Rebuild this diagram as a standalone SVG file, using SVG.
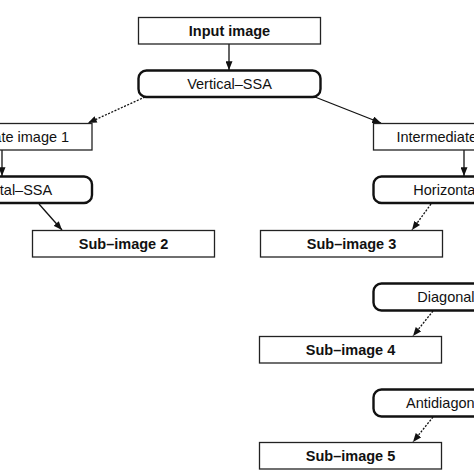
<svg xmlns="http://www.w3.org/2000/svg" width="474" height="474" viewBox="0 0 474 474">
<defs>
<marker id="ah" viewBox="0 0 10 8" refX="10" refY="4" markerWidth="9" markerHeight="7" markerUnits="userSpaceOnUse" orient="auto">
<path d="M0,0 L10,4 L0,8 Z" fill="#111"/>
</marker>
</defs>
<style>
.box{fill:#fff;stroke:#222;stroke-width:1.3}
.rbox{fill:#fff;stroke:#111;stroke-width:2.4}
.t{font-family:"Liberation Sans",Arial,sans-serif;font-size:14.5px;fill:#111;text-anchor:middle}
.b{font-weight:bold}
.c{stroke:#111;stroke-width:1.3;fill:none}
.d{stroke-dasharray:2,1.5}
</style>
<rect width="474" height="474" fill="#fff"/>
<g id="connectors">
<line class="c" x1="229" y1="44" x2="229" y2="70" marker-end="url(#ah)"/>
<line class="c d" x1="145" y1="97" x2="88" y2="123" marker-end="url(#ah)"/>
<line class="c" x1="315" y1="97" x2="381" y2="123" marker-end="url(#ah)"/>
<line class="c" x1="2" y1="150" x2="2" y2="176" marker-end="url(#ah)"/>
<line class="c" x1="39" y1="204" x2="62" y2="230" marker-end="url(#ah)"/>
<line class="c" x1="464" y1="150" x2="464" y2="176" marker-end="url(#ah)"/>
<line class="c d" x1="431" y1="204" x2="412" y2="230" marker-end="url(#ah)"/>
<line class="c d" x1="433" y1="311" x2="413" y2="336" marker-end="url(#ah)"/>
<line class="c d" x1="433" y1="417" x2="413" y2="442" marker-end="url(#ah)"/>
</g>
<g id="input"><rect class="box" x="138.5" y="17.5" width="182" height="26.5"/><text class="t b" x="229.5" y="36">Input image</text></g>
<g id="vssa"><rect class="rbox" x="138.5" y="70.5" width="182" height="26.5" rx="8"/><text class="t" x="229.5" y="89">Vertical–SSA</text></g>
<g id="inter1"><rect class="box" x="-90" y="123.5" width="182" height="26.5"/><text class="t" x="1" y="142">Intermediate image 1</text></g>
<g id="inter2"><rect class="box" x="373.5" y="123.5" width="182" height="26.5"/><text class="t" x="464.5" y="142">Intermediate image 2</text></g>
<g id="hssa1"><rect class="rbox" x="-90" y="176.5" width="182" height="26.5" rx="8"/><text class="t" x="1" y="195">Horizontal–SSA</text></g>
<g id="hssa2"><rect class="rbox" x="373.5" y="176.5" width="182" height="26.5" rx="8"/><text class="t" x="464.5" y="195">Horizontal–SSA</text></g>
<g id="sub2"><rect class="box" x="32.5" y="230.5" width="182" height="26.5"/><text class="t b" x="123.5" y="249">Sub–image 2</text></g>
<g id="sub3"><rect class="box" x="260.5" y="230.5" width="182" height="26.5"/><text class="t b" x="351.5" y="249">Sub–image 3</text></g>
<g id="dssa"><rect class="rbox" x="373.5" y="283.5" width="182" height="27" rx="8"/><text class="t" x="464.5" y="302">Diagonal–SSA</text></g>
<g id="sub4"><rect class="box" x="259.5" y="336.5" width="182" height="26.5"/><text class="t b" x="350.5" y="355">Sub–image 4</text></g>
<g id="assa"><rect class="rbox" x="373.5" y="389.5" width="182" height="27" rx="8"/><text class="t" x="464.5" y="408">Antidiagonal–SSA</text></g>
<g id="sub5"><rect class="box" x="259.5" y="442.5" width="182" height="26.5"/><text class="t b" x="350.5" y="461">Sub–image 5</text></g>
</svg>
